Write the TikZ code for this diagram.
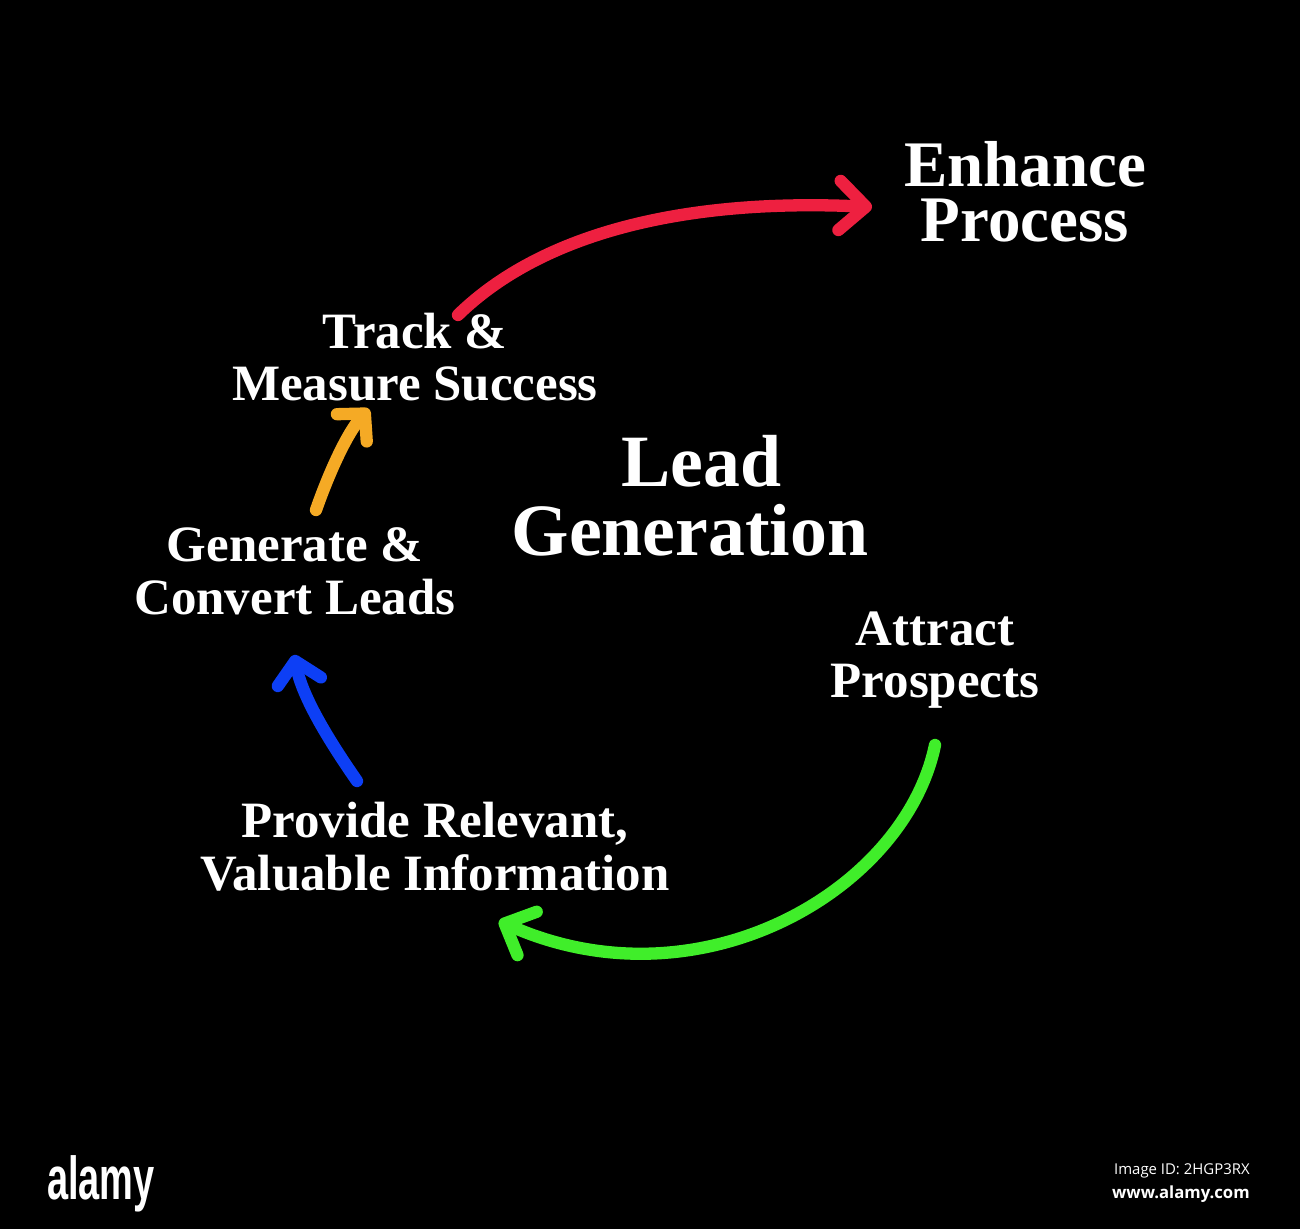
\documentclass[tikz,border=0pt]{standalone}
\usepackage{fontspec}
\setmainfont{Liberation Serif}
\newfontfamily\idfont{Open Sans}
\newfontfamily\logofont{Liberation Sans}
\usetikzlibrary{arrows.meta}
\definecolor{cred}{HTML}{EE2040}
\definecolor{corange}{HTML}{F5AA25}
\definecolor{cblue}{HTML}{0D3FF5}
\definecolor{cgreen}{HTML}{40EE2A}
\tikzset{
  lbl/.style={text=white, align=center, font=\fontsize{29}{30}\selectfont\bfseries, inner sep=0pt},
  flow/.style={line width=7pt, line cap=round},
}
\begin{document}
\begin{tikzpicture}[x=0.02cm, y=-0.02cm]
\fill[black] (0,0) rectangle (1300,1229);
\useasboundingbox (0,0) rectangle (1300,1229);

\node[lbl, font=\fontsize{37}{31.5}\selectfont\bfseries] (enh) at (1025,192) {Enhance\\Process};
\node[lbl] (track) at (415,357) {Track \&\\Measure Success};
\node[lbl, font=\fontsize{42}{39}\selectfont\bfseries] (lead) at (690,496) {\hspace*{13pt}Lead\\Generation};
\node[lbl] (gen) at (295,571) {Generate \&\\Convert Leads};
\node[lbl] (attr) at (935,660) {Attract\\Prospects};
\node[lbl] (prov) at (435,847) {Provide Relevant,\\Valuable Information};

\coordinate (r0) at (458,315);  \coordinate (r1) at (872,207);
\coordinate (o0) at (316,510);  \coordinate (o1) at (369,409);
\coordinate (b0) at (357,781);  \coordinate (b1) at (294,655);
\coordinate (g0) at (935,745);  \coordinate (g1) at (499,921);

\draw[flow, cred, -{Straight Barb[round, length=15pt, width=28pt]}]
  (r0) .. controls (540,235) and (680,198) .. (r1);
\draw[flow, corange, -{Straight Barb[round, length=11pt, width=23pt]}]
  (o0) .. controls (330,470) and (348,432) .. (o1);
\draw[flow, cblue, -{Straight Barb[round, length=12pt, width=25pt]}]
  (b0) .. controls (325,735) and (302,695) .. (b1);
\draw[flow, cgreen, -{Straight Barb[round, length=14pt, width=27pt]}]
  (g0) .. controls (905,890) and (700,1010) .. (g1);

\node[text=white, inner sep=0pt, font=\logofont\bfseries\fontsize{30}{30}\selectfont] (logo) at (101,1184) {\scalebox{0.72}[1.15]{alamy}};
\node[text=white, inner sep=0pt, anchor=east, font=\idfont\fontsize{8.5}{10}\selectfont] (imgid) at (1250,1171) {Image ID: 2HGP3RX};
\node[text=white, inner sep=0pt, anchor=east, font=\idfont\bfseries\fontsize{9.5}{10}\selectfont] (www) at (1250,1194) {www.alamy.com};
\end{tikzpicture}
\end{document}
